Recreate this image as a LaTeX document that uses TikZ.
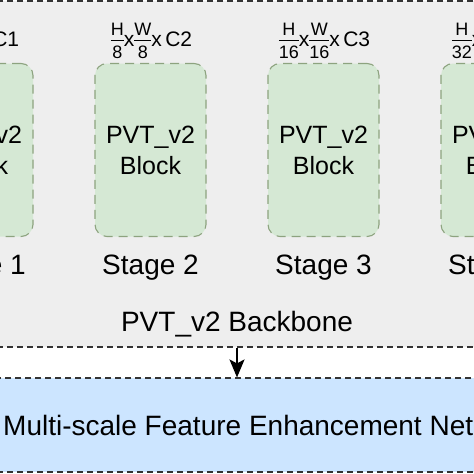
\documentclass[tikz,border=0pt]{standalone}
\usepackage{amsmath}
\usepackage{fontspec}
\setmainfont{Liberation Sans}
\usetikzlibrary{arrows.meta}

\definecolor{bggray}{HTML}{EEEEEE}
\definecolor{blockfill}{HTML}{D5E8D4}
\definecolor{blockline}{HTML}{8DA37F}
\definecolor{netfill}{HTML}{CCE5FF}
\definecolor{panelline}{HTML}{333333}

% size fraction, e.g. H/8
\newcommand{\dimfrac}[2]{\raisebox{-1.5pt}{\fontsize{18}{18}\selectfont\renewcommand\arraystretch{0.85}\setlength\arrayrulewidth{1.2pt}%
    \begin{tabular}[c]{@{}c@{}}#1\\\hline\rule{0pt}{17pt}#2\end{tabular}}}

\begin{document}
\begin{tikzpicture}[x=1pt,y=-1pt,
    panel/.style={draw=panelline, dash pattern=on 6pt off 4pt, line width=1.1pt, inner sep=0pt},
    block/.style={draw=blockline, fill=blockfill, dash pattern=on 9pt off 6pt, line width=1.1pt,
        rounded corners=12pt, minimum width=111pt, minimum height=173pt, inner sep=0pt,
        align=center, font=\fontsize{25}{31}\selectfont},
    stagelabel/.style={font=\fontsize{28}{28}\selectfont, inner sep=0pt},
    dimlabel/.style={font=\fontsize{21}{21}\selectfont, inner sep=0pt, anchor=base}]
    \useasboundingbox (0,0) rectangle (474,474);
    \clip (0,0) rectangle (474,474);

    % backbone and enhancement panels
    \node[panel, fill=bggray, minimum width=560pt, minimum height=346pt] (backbone) at (237,174) {};
    \node[panel, fill=netfill, minimum width=560pt, minimum height=94pt] (enhnet) at (237,425) {};

    % stages
    \foreach \i/\den in {1/4,2/8,3/16,4/32} {
        \pgfmathsetmacro\cx{150.5+173*(\i-2)}
        \node[block] (blk\i) at (\cx,150) {PVT\_v2\\Block};
        \node[stagelabel] (stg\i) at (\cx,268) {Stage \i};
        \node[dimlabel] (dim\i) at (\cx+1,46) {\dimfrac{H}{\den}x\dimfrac{W}{\den}x\,C\i};
    }

    \node[stagelabel] (bbtext) at (237,324) {PVT\_v2 Backbone};
    \node[stagelabel, anchor=west] (enhtext) at (3,425) {Multi-scale Feature Enhancement Net};

    \draw[-{Stealth[length=18pt,width=15pt,inset=4pt]}, line width=2pt] (backbone.south) -- (enhnet.north);
\end{tikzpicture}
\end{document}
